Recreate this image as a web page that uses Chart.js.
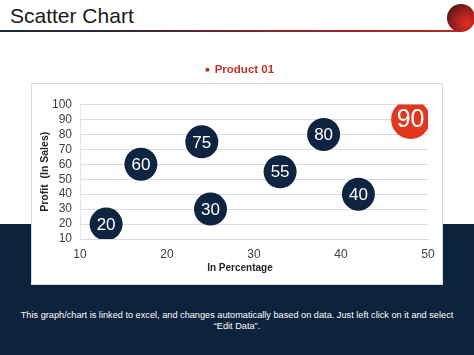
<!DOCTYPE html>
<html>
<head>
<meta charset="utf-8">
<script src="https://cdn.jsdelivr.net/npm/chart.js@4.4.1/dist/chart.umd.min.js"></script>
<style>
  html, body { margin:0; padding:0; }
  body { width:474px; height:355px; position:relative; overflow:hidden; background:#fff;
         font-family:"Liberation Sans", Arial, sans-serif; }
  #title { position:absolute; left:10px; top:5px; font-size:21px; line-height:21px; color:#1a1a1a; }
  #rule { position:absolute; left:0; top:30px; width:462px; height:2px;
          background:linear-gradient(90deg,#1b2a40 0%,#3a2836 30%,#8a2626 60%,#c0281e 100%); }
  #orb { position:absolute; left:447px; top:4px; width:28px; height:28px; border-radius:50%;
         background:radial-gradient(circle at 72% 70%, #de2f1e 0%, #a82220 40%, #5c1616 80%, #401010 100%); }
  #band { position:absolute; left:0; top:224px; width:474px; height:131px; background:#0d223c; }
  #box { position:absolute; left:31px; top:83px; width:410px; height:200px; background:#fff;
         border:1px solid #d9d9d9; }
  #foot { position:absolute; left:0; top:309.5px; width:474px; text-align:center; color:#fff;
          font-size:9.2px; line-height:11.6px; white-space:nowrap; }
  canvas { position:absolute; left:0; top:0; }
</style>
</head>
<body>
<div id="title">Scatter Chart</div>
<div id="rule"></div>
<div id="orb"></div>
<div id="band"></div>
<div id="box"></div>
<div id="foot">This graph/chart is linked to excel, and changes automatically based on data. Just left click on it and select<br>“Edit Data”.</div>
<canvas id="c" width="474" height="355"></canvas>
<script>
// ---- data ----
const seriesName = 'Product 01';
const xValues = [13, 17, 24, 25, 33, 38, 42, 48];
const yValues = [20, 60, 75, 30, 55, 80, 40, 90];
const pointLabels = ['20', '60', '75', '30', '55', '80', '40', '90'];
const xTicks = [10, 20, 30, 40, 50];
const yTicks = [10, 20, 30, 40, 50, 60, 70, 80, 90, 100];
const xTitle = 'In Percentage';
const yTitle = 'Profit  (In Sales)';

const points = xValues.map((x, i) => ({ x: x, y: yValues[i] }));
const hiIndex = yValues.indexOf(Math.max(...yValues));

const NAVY = '#0e2440';
const RED = '#e2371f';
const LEGEND_RED = '#c0322a';
const FONT = '"Liberation Sans", Arial, sans-serif';

Chart.defaults.font.family = FONT;

const pointLabelPlugin = {
  id: 'pointLabelPlugin',
  afterDatasetsDraw(chart) {
    const ctx = chart.ctx;
    chart.getDatasetMeta(0).data.forEach((pt, i) => {
      const big = i === hiIndex;
      ctx.save();
      ctx.fillStyle = '#ffffff';
      ctx.font = (big ? 25 : 17) + 'px ' + FONT;
      ctx.textAlign = 'center';
      ctx.textBaseline = 'middle';
      ctx.fillText(pointLabels[i], pt.x, pt.y + 1);
      ctx.restore();
    });
  }
};

const legendGapPlugin = {
  id: 'legendGapPlugin',
  beforeLayout(chart) {
    const lg = chart.legend;
    if (lg && !lg._gapPatched) {
      const f = lg.fit;
      lg.fit = function () { f.call(this); this.height += 19; };
      lg._gapPatched = true;
    }
  }
};

new Chart(document.getElementById('c'), {
  type: 'scatter',
  data: {
    datasets: [{
      label: seriesName,
      data: points,
      backgroundColor: NAVY,
      pointBackgroundColor: (c) => c.dataIndex === hiIndex ? RED : NAVY,
      pointBorderWidth: 0,
      pointBorderColor: 'rgba(0,0,0,0)',
      pointRadius: (c) => c.dataIndex === hiIndex ? 19.5 : 16.5,
      pointHoverRadius: (c) => c.dataIndex === hiIndex ? 19.5 : 16.5
    }]
  },
  options: {
    responsive: false,
    devicePixelRatio: 1,
    animation: false,
    events: [],
    layout: { padding: { top: 54, left: 52, right: 46, bottom: 81 } },
    plugins: {
      tooltip: { enabled: false },
      legend: {
        display: true,
        position: 'top',
        labels: {
          usePointStyle: true,
          pointStyle: 'circle',
          boxWidth: 3,
          boxHeight: 3,
          padding: 10,
          color: LEGEND_RED,
          font: { size: 11.5, weight: 'bold', family: FONT },
          generateLabels(chart) {
            const items = Chart.defaults.plugins.legend.labels.generateLabels(chart);
            items.forEach(it => { it.fillStyle = LEGEND_RED; it.strokeStyle = LEGEND_RED; it.lineWidth = 0; it.fontColor = LEGEND_RED; });
            return items;
          }
        }
      },
      title: {
        display: true,
        position: 'bottom',
        text: xTitle,
        color: '#262626',
        font: { size: 10, weight: 'bold', family: FONT },
        padding: { top: 1, bottom: 0 }
      }
    },
    scales: {
      x: {
        type: 'linear',
        min: xTicks[0],
        max: xTicks[xTicks.length - 1],
        afterBuildTicks: (s) => { s.ticks = xTicks.map(v => ({ value: v })); },
        afterFit: (s) => { s.height = 22; },
        grid: { display: false, drawTicks: false },
        border: { display: true, color: '#d9d9d9', width: 1 },
        ticks: { autoSkip: false, maxRotation: 0, padding: 8, color: '#404040', font: { size: 12, family: FONT } }
      },
      y: {
        type: 'linear',
        min: yTicks[0],
        max: yTicks[yTicks.length - 1],
        afterBuildTicks: (s) => { s.ticks = yTicks.map(v => ({ value: v })); },
        afterFit: (s) => { s.width = 28; },
        grid: { color: '#dcdcdc', lineWidth: 1, drawTicks: false },
        border: { display: true, color: '#e4e4e4', width: 1 },
        ticks: { autoSkip: false, padding: 8, color: '#404040', font: { size: 12, family: FONT } },
        title: {
          display: true,
          text: yTitle,
          color: '#262626',
          font: { size: 10.5, weight: 'bold', family: FONT },
          padding: { top: -12.8, bottom: 0 }
        }
      }
    }
  },
  plugins: [pointLabelPlugin, legendGapPlugin]
});
</script>
</body>
</html>
